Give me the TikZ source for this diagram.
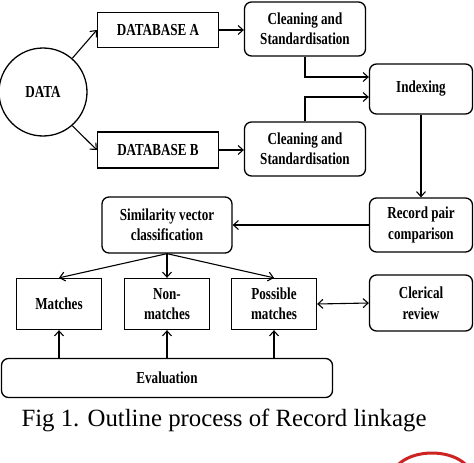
\documentclass[tikz,border=0pt]{standalone}
\usepackage{fontspec}
\setmainfont{Liberation Serif}
\newfontfamily\boxfont[FakeStretch=0.78]{Liberation Serif}
\usetikzlibrary{shapes, arrows.meta, positioning}
\usepackage{xcolor}
\definecolor{logored}{RGB}{205,35,35}

\begin{document}
\begin{tikzpicture}[x=1pt, y=-1pt,
        box/.style={draw, line width=1.3pt, align=center, inner sep=2pt, font=\boxfont\bfseries\fontsize{16.8}{20.5}\selectfont},
        sqbox/.style={box, rectangle, minimum width=85pt, minimum height=51pt},
        rbox/.style={box, rectangle, rounded corners=7pt, minimum width=103pt, minimum height=54pt},
        link/.style={line width=1.1pt, -{Straight Barb[length=5pt, width=9pt]}}
    ]

        \useasboundingbox (0,0) rectangle (474,463);
        \clip (0,0) rectangle (474,463);

        % Sources
        \node[box, circle, minimum size=88pt] (data) at (43,92) {DATA};

        \node[sqbox, minimum width=121pt, minimum height=35pt] (dba) at (158,30) {DATABASE A};
        \node[sqbox, minimum width=121pt, minimum height=36pt] (dbb) at (158,150) {DATABASE B};

        \node[rbox, minimum width=121pt] (clna) at (305,29) {Cleaning and\\Standardisation};
        \node[rbox, minimum width=121pt] (clnb) at (305,149) {Cleaning and\\Standardisation};

        % Linkage steps
        \node[rbox, minimum height=50pt] (idx) at (421,89) {Indexing};
        \node[rbox] (rpc) at (421,225) {Record pair\\comparison};
        \node[rbox, minimum width=130pt, minimum height=56pt] (svc) at (167,225) {Similarity vector\\classification};

        % Outcomes
        \node[sqbox] (mat) at (59,304) {Matches};
        \node[sqbox] (nonm) at (167,304) {Non-\\matches};
        \node[sqbox] (posm) at (274,304) {Possible\\matches};
        \node[rbox, minimum height=56pt] (cler) at (421,303) {Clerical\\review};

        \node[rbox, minimum width=331pt, minimum height=39pt] (eval) at (167,378) {Evaluation};

        \draw[link] (data.49) -- (dba.west);
        \draw[link] (data.-49) -- (dbb.west);
        \draw[link] (dba.east) -- (dba.east -| clna.west);
        \draw[link] (dbb.east) -- (dbb.east -| clnb.west);
        \draw[link] (clna.south) |- ([yshift=12pt]idx.west);
        \draw[link] (clnb.north) |- ([yshift=-8pt]idx.west);
        \draw[link] (idx.south) -- (rpc.north);
        \draw[link] (rpc.west) -- (svc.east);

        \draw[link] (svc.south) -- (mat.north);
        \draw[link] (svc.south) -- (nonm.north);
        \draw[link] (svc.south) -- (posm.north);
        \draw[link, {Straight Barb[length=5pt, width=9pt]}-{Straight Barb[length=5pt, width=9pt]}] (posm.east) -- (cler.west);

        \draw[link] (mat.south |- eval.north) -- (mat.south);
        \draw[link] (nonm.south |- eval.north) -- (nonm.south);
        \draw[link] (posm.south |- eval.north) -- (posm.south);

        % Caption
        \node[font=\fontsize{24.8}{29}\selectfont] (caption) at (224,420) {Fig 1. Outline process of Record linkage};

        \draw[logored, line width=3pt] (432,478) ellipse [x radius=40pt, y radius=25pt];

    \end{tikzpicture}
\end{document}
